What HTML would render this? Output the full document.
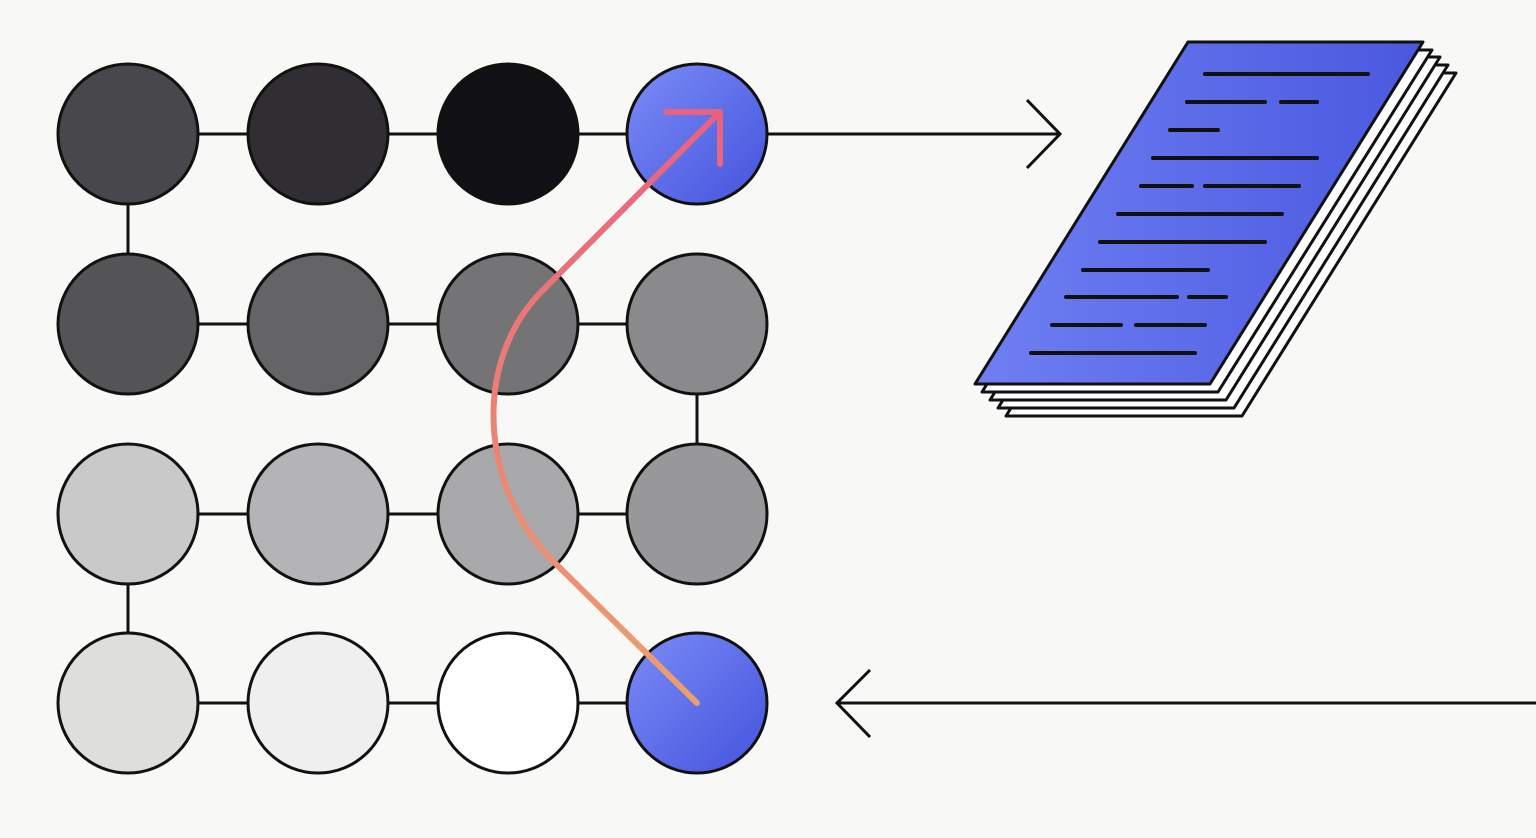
<!DOCTYPE html>
<html><head><style>html,body{margin:0;padding:0;background:#f8f8f6;}svg{display:block}</style></head>
<body>
<svg width="1536" height="838" viewBox="0 0 1536 838" xmlns="http://www.w3.org/2000/svg">
<defs>
<linearGradient id="blue" x1="0" y1="0" x2="1" y2="1">
<stop offset="0" stop-color="#7b8cf7"/><stop offset="1" stop-color="#4453dc"/></linearGradient>
<linearGradient id="paper" x1="0" y1="0" x2="1" y2="0">
<stop offset="0" stop-color="#6f7ff2"/><stop offset="1" stop-color="#4a58df"/></linearGradient>
<linearGradient id="pink" x1="0" y1="1" x2="0" y2="0" gradientUnits="objectBoundingBox">
<stop offset="0" stop-color="#ec9f6d"/><stop offset="1" stop-color="#e8627f"/></linearGradient>
</defs>
<rect width="1536" height="838" fill="#f8f8f6"/>
<g stroke="#111" stroke-width="3" fill="none">
<line x1="128" y1="134" x2="697" y2="134"/>
<line x1="128" y1="324" x2="697" y2="324"/>
<line x1="128" y1="514" x2="697" y2="514"/>
<line x1="128" y1="703" x2="697" y2="703"/>
<line x1="128" y1="134" x2="128" y2="324"/>
<line x1="697" y1="324" x2="697" y2="514"/>
<line x1="128" y1="514" x2="128" y2="703"/>
<line x1="767" y1="134" x2="1060" y2="134"/>
<polyline points="1027,100 1060,134 1027,168"/>
<line x1="837" y1="703" x2="1536" y2="703"/>
<polyline points="870,670 837,703 870,737"/>
</g>
<g stroke="#111" stroke-width="3">
<circle cx="128" cy="134" r="70" fill="#48474b"/>
<circle cx="318" cy="134" r="70" fill="#302e33"/>
<circle cx="508" cy="134" r="70" fill="#111014"/>
<circle cx="697" cy="134" r="70" fill="url(#blue)"/>
<circle cx="128" cy="324" r="70" fill="#545356"/>
<circle cx="318" cy="324" r="70" fill="#646366"/>
<circle cx="508" cy="324" r="70" fill="#747376"/>
<circle cx="697" cy="324" r="70" fill="#8a8a8c"/>
<circle cx="128" cy="514" r="70" fill="#c9c9c9"/>
<circle cx="318" cy="514" r="70" fill="#b4b4b6"/>
<circle cx="508" cy="514" r="70" fill="#a9a9ab"/>
<circle cx="697" cy="514" r="70" fill="#98989a"/>
<circle cx="128" cy="703" r="70" fill="#dededc"/>
<circle cx="318" cy="703" r="70" fill="#efeff0"/>
<circle cx="508" cy="703" r="70" fill="#ffffff"/>
<circle cx="697" cy="703" r="70" fill="url(#blue)"/>
</g>
<g fill="none" stroke="url(#pink)" stroke-width="6" stroke-linecap="round" stroke-linejoin="round">
<path d="M697,703 L555,563 C480,490 470,360 545,288 L720,112 M666,112 L720,112 L720,164"/>
</g>
<g stroke="#111" stroke-width="3" stroke-linejoin="round">
<polygon points="1220,73 1456,73 1242,416 1006,416" fill="#fff"/>
<polygon points="1212,65 1448,65 1234,408 998,408" fill="#fff"/>
<polygon points="1204,57 1440,57 1226,400 990,400" fill="#fff"/>
<polygon points="1196,50 1432,50 1218,392 982,392" fill="#fff"/>
<polygon points="1188,42 1423,42 1210,384 975,384" fill="url(#paper)"/>
</g>
<g stroke="#111" stroke-width="4" stroke-linecap="round">
<line x1="1205" y1="74" x2="1368" y2="74"/>
<line x1="1187" y1="102" x2="1265" y2="102"/><line x1="1281" y1="102" x2="1317" y2="102"/>
<line x1="1170" y1="130" x2="1218" y2="130"/>
<line x1="1153" y1="158" x2="1317" y2="158"/>
<line x1="1141" y1="186" x2="1192" y2="186"/><line x1="1205" y1="186" x2="1299" y2="186"/>
<line x1="1118" y1="214" x2="1282" y2="214"/>
<line x1="1100" y1="242" x2="1265" y2="242"/>
<line x1="1083" y1="270" x2="1208" y2="270"/>
<line x1="1066" y1="297" x2="1177" y2="297"/><line x1="1189" y1="297" x2="1226" y2="297"/>
<line x1="1052" y1="325" x2="1121" y2="325"/><line x1="1136" y1="325" x2="1205" y2="325"/>
<line x1="1031" y1="353" x2="1195" y2="353"/>
</g>
</svg>
</body></html>
